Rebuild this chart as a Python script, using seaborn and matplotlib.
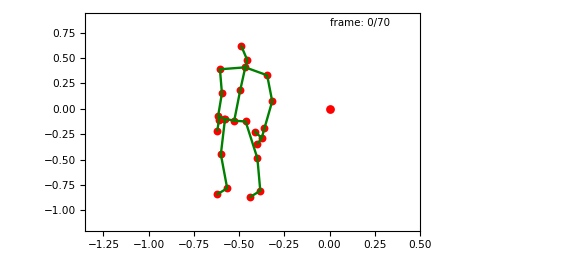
import numpy as np
import pandas as pd
import matplotlib
matplotlib.use("Agg")
import matplotlib.pyplot as plt
import seaborn as sns

# joint coordinates (x, y)
joint_x = [-0.488, -0.455, -0.466, -0.606, -0.345, -0.595, -0.494, -0.317,
           -0.616, -0.612, -0.620, -0.586, -0.578, -0.527, -0.464, -0.413,
           -0.360, -0.375, -0.399, -0.601, -0.399, -0.566, -0.621, -0.383,
           -0.438]
joint_y = [0.618, 0.480, 0.408, 0.389, 0.330, 0.153, 0.182, 0.074,
           -0.071, -0.110, -0.214, -0.096, -0.100, -0.117, -0.125, -0.224,
           -0.192, -0.288, -0.347, -0.448, -0.487, -0.782, -0.842, -0.806,
           -0.868]
# bones as joint index pairs
bones_a = [0, 1, 2, 2, 3, 5, 8, 9, 8, 2, 6, 13, 12, 19, 21, 13, 14, 20, 23, 4, 7, 16, 17, 15]
bones_b = [1, 2, 3, 4, 5, 8, 9, 10, 11, 6, 13, 12, 19, 21, 22, 14, 20, 23, 24, 7, 16, 17, 18, 17]
# separate marker at the origin
origin_x = [0.0]
origin_y = [0.0]
frame_label = "frame: 0/70"

sns.set_theme(style="ticks")
plt.rcParams.update({
    "font.family": ["DejaVu Sans"],
    "text.color": "black",
    "axes.labelcolor": "black",
    "xtick.color": "black",
    "ytick.color": "black",
    "axes.edgecolor": "black",
    "xtick.labelsize": 7.6,
    "ytick.labelsize": 7.6,
    "axes.linewidth": 0.8,
})

fig = plt.figure(figsize=(5.63, 2.61), dpi=100)
ax = fig.add_axes([85 / 563, 1 - 230.7 / 261, (420 - 85) / 563, (230.7 - 13.3) / 261])

pts = pd.DataFrame({"x": joint_x, "y": joint_y})
sns.scatterplot(data=pts, x="x", y="y", color="#ff0000", s=32, linewidth=0, ax=ax, zorder=1)

rows = []
for k, (a, b) in enumerate(zip(bones_a, bones_b)):
    rows.append({"bone": k, "order": 0, "x": joint_x[a], "y": joint_y[a]})
    rows.append({"bone": k, "order": 1, "x": joint_x[b], "y": joint_y[b]})
edges = pd.DataFrame(rows)
sns.lineplot(data=edges, x="x", y="y", units="bone", estimator=None, sort=False,
             color="#008000", linewidth=1.7, ax=ax, zorder=2)

org = pd.DataFrame({"x": origin_x, "y": origin_y})
sns.scatterplot(data=org, x="x", y="y", color="#ff0000", s=40, linewidth=0, ax=ax, zorder=3)

ax.text(0.0, 0.815, frame_label, fontsize=7.4, ha="left", va="baseline")

ax.set_xlim(-1.352, 0.5)
ax.set_ylim(-1.20, 0.94)
ax.set_xticks([-1.25, -1.0, -0.75, -0.5, -0.25, 0.0, 0.25, 0.5])
ax.set_yticks([-1.0, -0.75, -0.5, -0.25, 0.0, 0.25, 0.5, 0.75])
ax.set_xlabel("")
ax.set_ylabel("")
ax.tick_params(length=3.5, width=0.8, pad=3)

fig.savefig("out.png", dpi=100)
